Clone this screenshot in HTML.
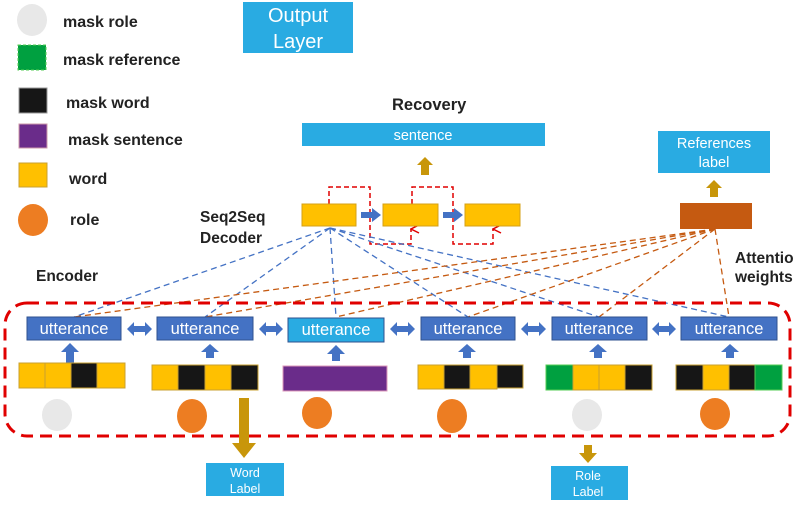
<!DOCTYPE html>
<html><head><meta charset="utf-8"><style>
body{margin:0;background:#fff}
svg{display:block;font-family:"Liberation Sans",Arial,sans-serif}
</style></head><body>
<svg width="795" height="505" viewBox="0 0 795 505" xmlns="http://www.w3.org/2000/svg">
<defs>
<marker id="ra" markerWidth="10" markerHeight="10" refX="5" refY="1" orient="auto-start-reverse" markerUnits="userSpaceOnUse"><path d="M1,9 L5,1 L9,9" fill="none" stroke="#e00000" stroke-width="1.5"/></marker>
</defs>
<!-- legend -->
<ellipse cx="32" cy="20" rx="15" ry="16" fill="#e8e8e8"/>
<text x="63" y="27" font-size="16" font-weight="bold" fill="#222">mask role</text>
<rect x="18" y="45" width="28" height="25" fill="#00a040" stroke="#5c5" stroke-dasharray="3 2"/>
<text x="63" y="65" font-size="16" font-weight="bold" fill="#222">mask reference</text>
<rect x="19" y="88" width="28" height="25" fill="#161616" stroke="#999"/>
<text x="66" y="108" font-size="16" font-weight="bold" fill="#222">mask word</text>
<rect x="19" y="124" width="28" height="24" fill="#6a2c8a" stroke="#c9a"/>
<text x="68" y="145" font-size="16" font-weight="bold" fill="#222">mask sentence</text>
<rect x="19" y="163" width="28" height="24" fill="#ffc000" stroke="#c8a030"/>
<text x="69" y="184" font-size="16" font-weight="bold" fill="#222">word</text>
<ellipse cx="33" cy="220" rx="15" ry="16" fill="#ed7d22"/>
<text x="70" y="225" font-size="16" font-weight="bold" fill="#222">role</text>
<!-- output layer -->
<rect x="243" y="2" width="110" height="51" fill="#29abe2"/>
<text x="298" y="22" font-size="20" fill="#fff" text-anchor="middle">Output</text>
<text x="298" y="48" font-size="20" fill="#fff" text-anchor="middle">Layer</text>
<text x="392" y="110" font-size="16.5" font-weight="bold" fill="#222">Recovery</text>
<rect x="302" y="123" width="243" height="23" fill="#29abe2"/>
<text x="423" y="140" font-size="14.5" fill="#fff" text-anchor="middle">sentence</text>
<path d="M421,175 V165 H417 L425,157 L433,165 H429 V175Z" fill="#c8960a"/>
<!-- decoder -->
<text x="200" y="222" font-size="15.5" font-weight="bold" fill="#222">Seq2Seq</text>
<text x="200" y="243" font-size="15.5" font-weight="bold" fill="#222">Decoder</text>
<path d="M329,204 V187 H370 V244 H411 V229" fill="none" stroke="#e00000" stroke-width="1.5" stroke-dasharray="5 3" marker-end="url(#ra)"/>
<path d="M412,204 V187 H453 V244 H493 V229" fill="none" stroke="#e00000" stroke-width="1.5" stroke-dasharray="5 3" marker-end="url(#ra)"/>
<rect x="302" y="204" width="54" height="22" fill="#ffc000" stroke="#d4a017"/>
<rect x="383" y="204" width="55" height="22" fill="#ffc000" stroke="#d4a017"/>
<rect x="465" y="204" width="55" height="22" fill="#ffc000" stroke="#d4a017"/>
<path d="M361,212 H372 V208 L381,215 L372,222 V218 H361Z" fill="#4472c4"/>
<path d="M443,212 H454 V208 L463,215 L454,222 V218 H443Z" fill="#4472c4"/>
<!-- references -->
<rect x="658" y="131" width="112" height="42" fill="#29abe2"/>
<text x="714" y="148" font-size="14.5" fill="#fff" text-anchor="middle">References</text>
<text x="714" y="167" font-size="14.5" fill="#fff" text-anchor="middle">label</text>
<path d="M710,197 V188 H706 L714,180 L722,188 H718 V197Z" fill="#c8960a"/>
<rect x="680" y="203" width="72" height="26" fill="#c55a11"/>
<text x="735" y="263" font-size="15.5" font-weight="bold" fill="#222">Attentio</text>
<text x="735" y="282" font-size="15.5" font-weight="bold" fill="#222">weights</text>
<text x="36" y="281" font-size="15.5" font-weight="bold" fill="#222">Encoder</text>
<!-- attention lines -->
<g stroke="#4472c4" stroke-width="1.3" stroke-dasharray="6 4" fill="none">
<path d="M330,228 L74,317"/><path d="M330,228 L205,317"/><path d="M330,228 L336,317"/>
<path d="M330,228 L468,317"/><path d="M330,228 L599,317"/><path d="M330,228 L729,317"/>
</g>
<g stroke="#c55a11" stroke-width="1.3" stroke-dasharray="6 4" fill="none">
<path d="M715,229 L74,317"/><path d="M715,229 L205,317"/><path d="M715,229 L336,317"/>
<path d="M715,229 L468,317"/><path d="M715,229 L599,317"/><path d="M715,229 L729,317"/>
</g>
<!-- encoder region -->
<rect x="5" y="303" width="785" height="133" rx="22" fill="none" stroke="#e00000" stroke-width="3" stroke-dasharray="12 7"/>
<g font-size="16.5" fill="#fff" text-anchor="middle">
<rect x="27" y="317" width="94" height="23" fill="#4472c4" stroke="#2f528f"/><text x="74" y="334">utterance</text>
<rect x="157" y="317" width="96" height="23" fill="#4472c4" stroke="#2f528f"/><text x="205" y="334">utterance</text>
<rect x="288" y="318" width="96" height="24" fill="#29abe2" stroke="#2f528f"/><text x="336" y="335">utterance</text>
<rect x="421" y="317" width="94" height="23" fill="#4472c4" stroke="#2f528f"/><text x="468" y="334">utterance</text>
<rect x="552" y="317" width="95" height="23" fill="#4472c4" stroke="#2f528f"/><text x="599" y="334">utterance</text>
<rect x="681" y="317" width="96" height="23" fill="#4472c4" stroke="#2f528f"/><text x="729" y="334">utterance</text>
</g>
<g fill="#4472c4">
<path d="M127,329 L134,322 V326 H145 V322 L152,329 L145,336 V332 H134 V336Z"/>
<path d="M259,329 L266,322 V326 H276 V322 L283,329 L276,336 V332 H266 V336Z"/>
<path d="M390,329 L397,322 V326 H408 V322 L415,329 L408,336 V332 H397 V336Z"/>
<path d="M521,329 L528,322 V326 H539 V322 L546,329 L539,336 V332 H528 V336Z"/>
<path d="M652,329 L659,322 V326 H669 V322 L676,329 L669,336 V332 H659 V336Z"/>
<path d="M66,363 V352 H61 L70,343 L79,352 H74 V363Z"/>
<path d="M206,358 V352 H201 L210,344 L219,352 H214 V358Z"/>
<path d="M332,361 V354 H327 L336,345 L345,354 H340 V361Z"/>
<path d="M463,358 V352 H458 L467,344 L476,352 H471 V358Z"/>
<path d="M594,358 V352 H589 L598,344 L607,352 H602 V358Z"/>
<path d="M726,358 V352 H721 L730,344 L739,352 H734 V358Z"/>
</g>
<!-- tokens -->
<g stroke="#c8a030" stroke-width="1">
<rect x="19" y="363" width="26" height="25" fill="#ffc000"/><rect x="45" y="363" width="26" height="25" fill="#ffc000"/><rect x="71" y="363" width="26" height="25" fill="#161616"/><rect x="97" y="363" width="28" height="25" fill="#ffc000"/>
<rect x="152" y="365" width="26" height="25" fill="#ffc000"/><rect x="178" y="365" width="27" height="25" fill="#161616"/><rect x="205" y="365" width="26" height="25" fill="#ffc000"/><rect x="231" y="365" width="27" height="25" fill="#161616"/>
<rect x="283" y="366" width="104" height="25" fill="#6a2c8a" stroke="#d9b"/>
<rect x="418" y="365" width="26" height="24" fill="#ffc000"/><rect x="444" y="365" width="26" height="24" fill="#161616"/><rect x="470" y="365" width="27" height="24" fill="#ffc000"/><rect x="497" y="365" width="26" height="23" fill="#161616"/>
<rect x="546" y="365" width="27" height="25" fill="#00a040" stroke="#5c5"/><rect x="573" y="365" width="26" height="25" fill="#ffc000"/><rect x="599" y="365" width="26" height="25" fill="#ffc000"/><rect x="625" y="365" width="27" height="25" fill="#161616"/>
<rect x="676" y="365" width="27" height="25" fill="#161616"/><rect x="703" y="365" width="26" height="25" fill="#ffc000"/><rect x="729" y="365" width="26" height="25" fill="#161616"/><rect x="755" y="365" width="27" height="25" fill="#00a040" stroke="#5c5"/>
</g>
<ellipse cx="57" cy="415" rx="15" ry="16" fill="#e8e8e8"/>
<ellipse cx="192" cy="416" rx="15" ry="17" fill="#ed7d22"/>
<ellipse cx="317" cy="413" rx="15" ry="16" fill="#ed7d22"/>
<ellipse cx="452" cy="416" rx="15" ry="17" fill="#ed7d22"/>
<ellipse cx="587" cy="415" rx="15" ry="16" fill="#e8e8e8"/>
<ellipse cx="715" cy="414" rx="15" ry="16" fill="#ed7d22"/>
<!-- labels -->
<path d="M239,398 H249 V443 H256 L244,458 L232,443 H239Z" fill="#c8960a"/>
<rect x="206" y="463" width="78" height="33" fill="#29abe2"/>
<text x="245" y="477" font-size="12.5" fill="#fff" text-anchor="middle">Word</text>
<text x="245" y="493" font-size="12.5" fill="#fff" text-anchor="middle">Label</text>
<path d="M584,445 H592 V453 H597 L588,463 L579,453 H584Z" fill="#c8960a"/>
<rect x="551" y="466" width="77" height="34" fill="#29abe2"/>
<text x="588" y="480" font-size="12.5" fill="#fff" text-anchor="middle">Role</text>
<text x="588" y="496" font-size="12.5" fill="#fff" text-anchor="middle">Label</text>
</svg>
</body></html>
